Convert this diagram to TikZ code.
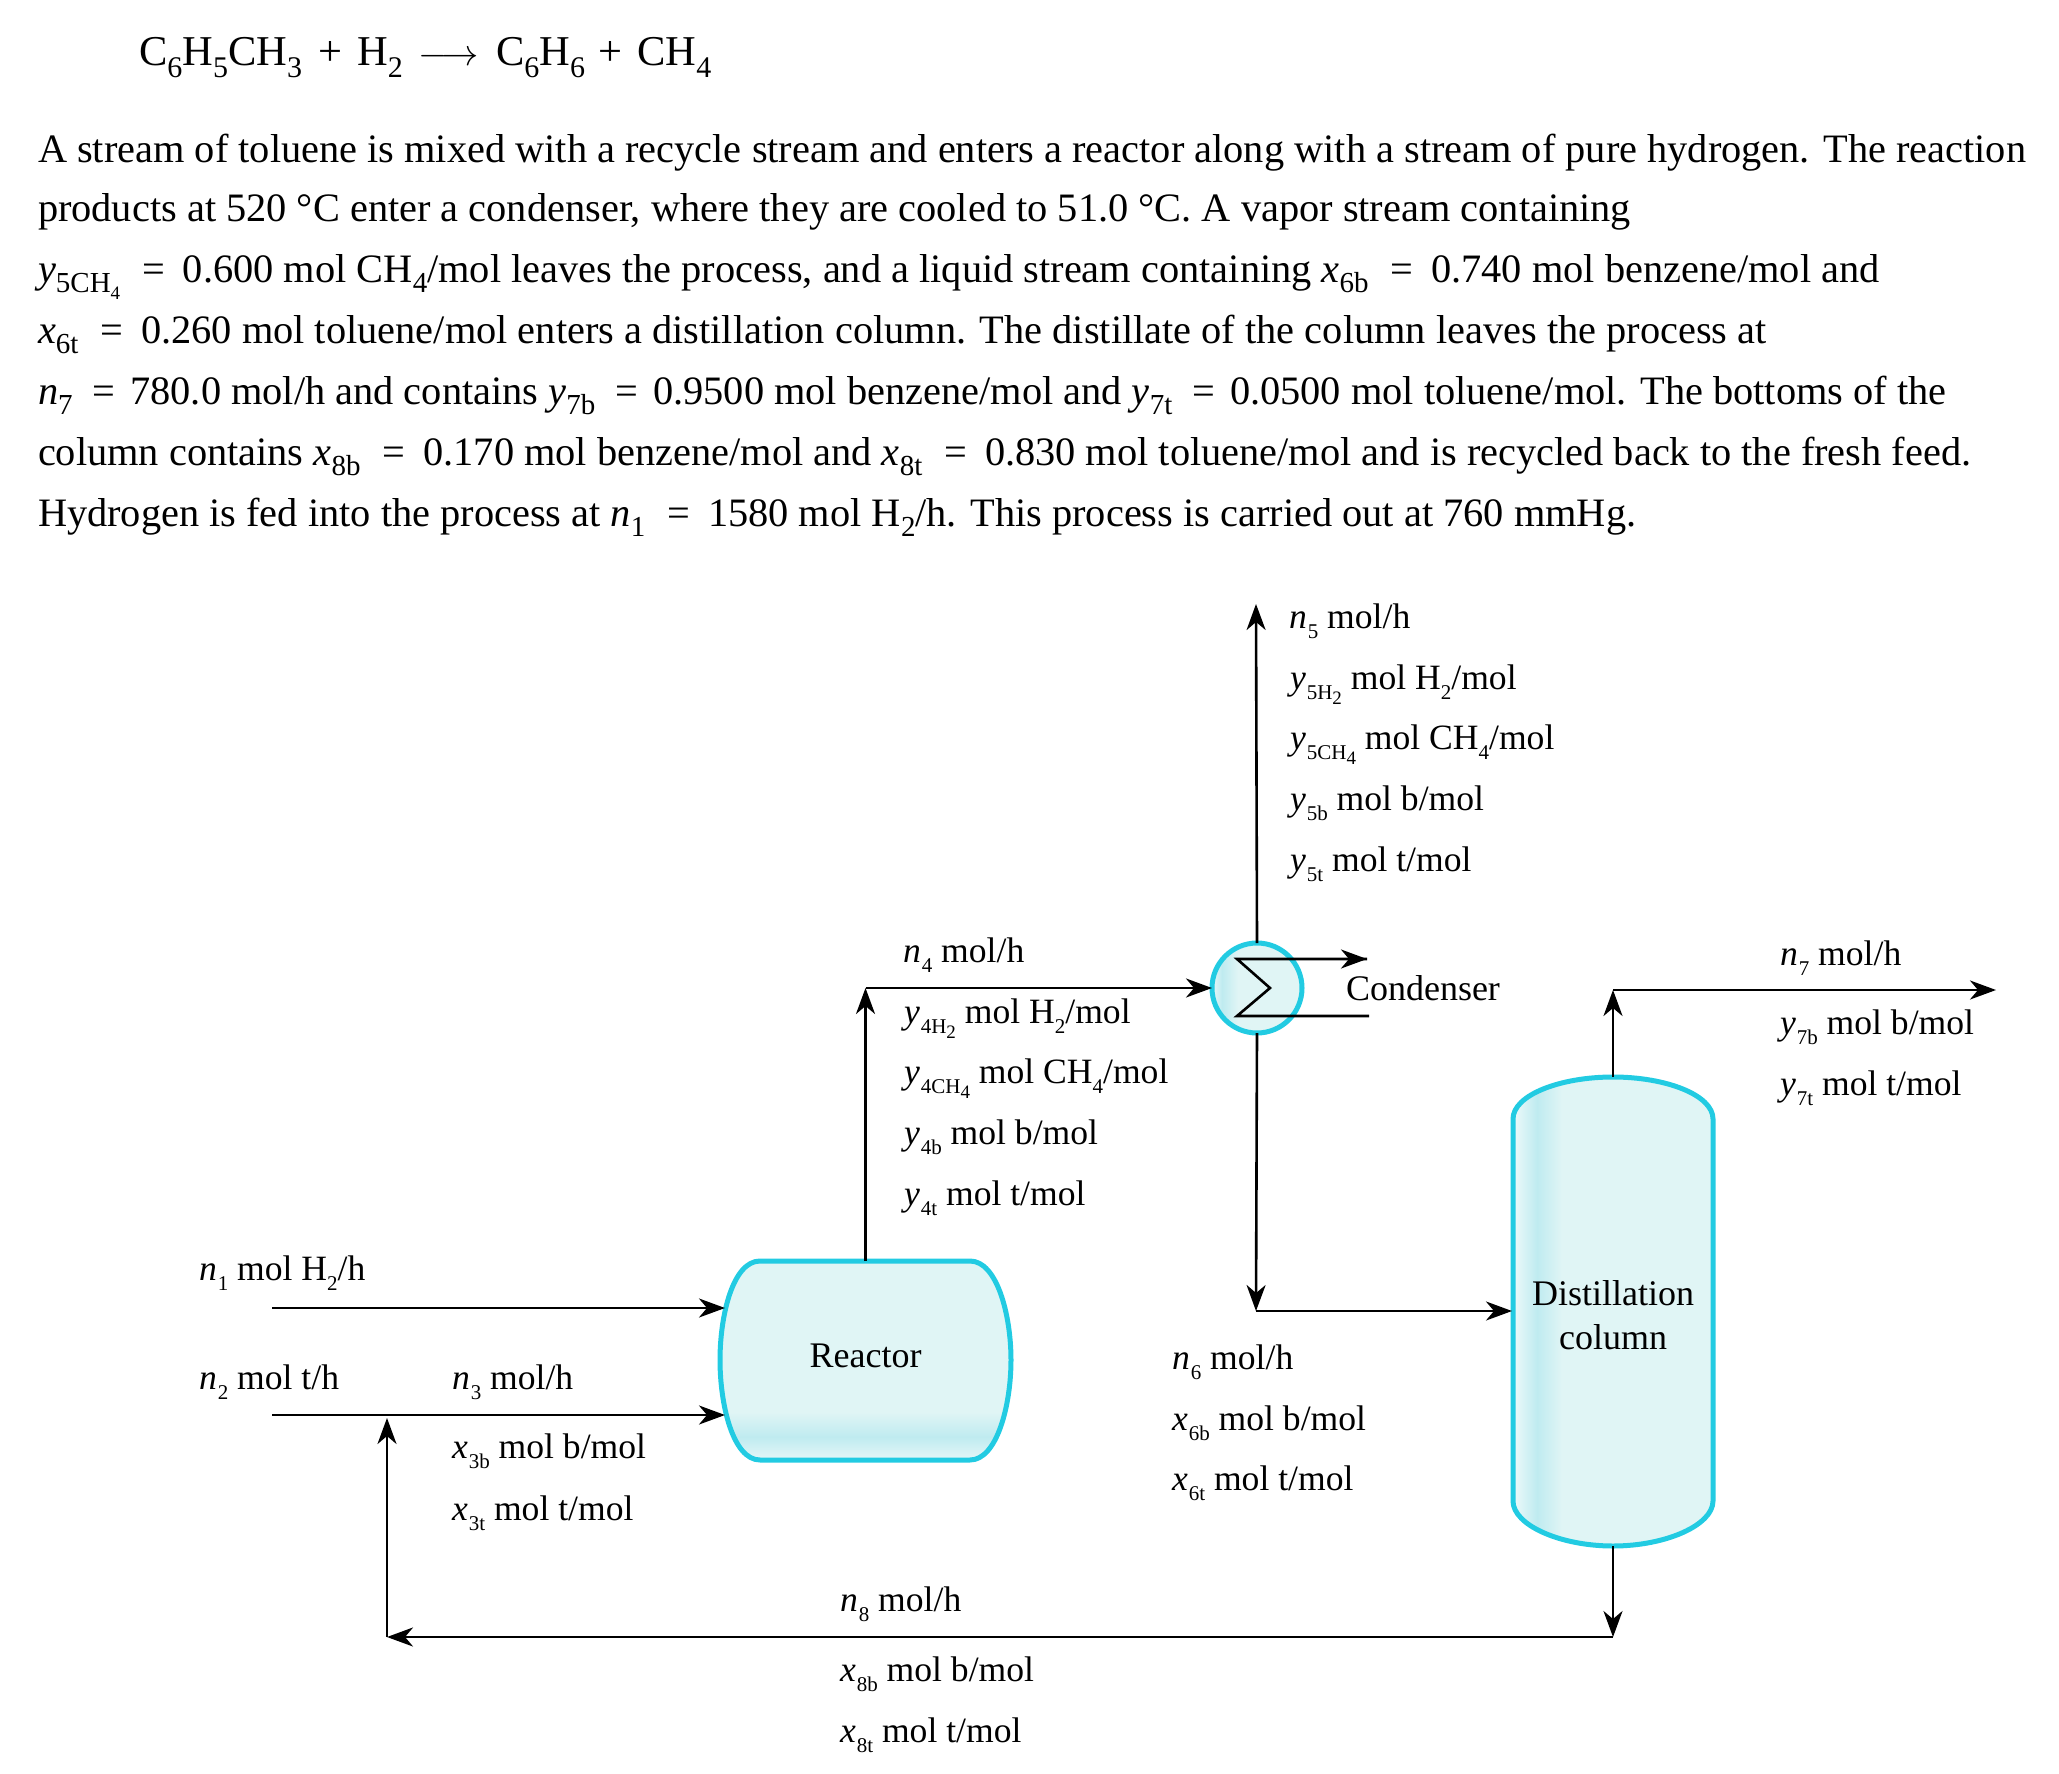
\documentclass[tikz,border=0pt]{standalone}
\usepackage{fontspec}
\usepackage{graphicx}
\setmainfont{Liberation Serif}
\usetikzlibrary{arrows.meta,calc}
\definecolor{eqline}{HTML}{22CBE2}
\definecolor{eqfill}{HTML}{E0F5F5}
\definecolor{eqband}{HTML}{BFEBF0}
\newcommand\dn[1]{\raisebox{-.3em}{\fontsize{21}{21}\selectfont #1}}
\newcommand\dnn[1]{\raisebox{-.25em}{\fontsize{19}{19}\selectfont #1}}
\newcommand\dnb[1]{\raisebox{-.25em}{\fontsize{29}{29}\selectfont #1}}
\newcommand\dnc[1]{\raisebox{-.28em}{\fontsize{30}{30}\selectfont #1}}
\newcommand\eqs{\kern22pt=\kern18pt}
\newcommand\eqt{\kern20pt=\kern15pt}
\newcommand\vn[2]{\textit{#1}\kern1pt\dn{#2}}
\tikzset{
  x=1pt,y=-1pt,
  lab/.style={anchor=base west,inner sep=0pt,outer sep=0pt,font=\fontsize{35.6}{35.6}\selectfont},
  body/.style={anchor=base west,inner sep=0pt,outer sep=0pt,font=\fontsize{40.36}{40.36}\selectfont},
  eq/.style={fill=eqfill,draw=none},
  eqedge/.style={draw=eqline,line width=5pt,line join=round},
  flow/.style={line width=2.6pt,-{Stealth[length=26pt,width=19pt,inset=8pt]}},
  plainline/.style={line width=2.6pt},
  box/.style={inner sep=0pt,outer sep=0pt,align=center,font=\fontsize{36}{36}\selectfont}
}
\begin{document}
\begin{tikzpicture}
\useasboundingbox (0,0) rectangle (2059,1774);
% text block
\node[body,font=\fontsize{42.5}{42.5}\selectfont] (eqn) at (139,66) {C\dnc{6}H\dnc{5}CH\dnc{3}\kern6pt{} +\kern4pt{} H\dnc{2}\kern16pt\scalebox{1.5}{$\longrightarrow$}\kern17pt C\dnc{6}H\dnc{6}\kern3pt{} +\kern4pt{} CH\dnc{4}};
\node[body] (t1) at (38,163) {A stream of toluene is mixed with a recycle stream and enters a reactor along with a stream of pure hydrogen. The reaction};
\node[body] (t2) at (38,221) {products at 520 °C enter a condenser, where they are cooled to 51.0 °C. A vapor stream containing};
\node[body] (t3) at (38,282) {\textit{y}\dnb{5CH\dnn{4}}\eqs 0.600 mol CH\dnb{4}/mol leaves the process, and a liquid stream containing \textit{x}\dnb{6b}\eqs 0.740 mol benzene/mol and};
\node[body] (t4) at (38,343) {\textit{x}\dnb{6t}\eqs 0.260 mol toluene/mol enters a distillation column. The distillate of the column leaves the process at};
\node[body] (t5) at (38,404) {\textit{n}\dnb{7}\eqt 780.0 mol/h and contains \textit{y}\dnb{7b}\eqt 0.9500 mol benzene/mol and \textit{y}\dnb{7t}\eqt 0.0500 mol toluene/mol. The bottoms of the};
\node[body] (t6) at (38,465) {column contains \textit{x}\dnb{8b}\eqs 0.170 mol benzene/mol and \textit{x}\dnb{8t}\eqs 0.830 mol toluene/mol and is recycled back to the fresh feed.};
\node[body] (t7) at (38,526) {Hydrogen is fed into the process at \textit{n}\dnb{1}\eqs 1580 mol H\dnb{2}/h. This process is carried out at 760 mmHg.};
% reactor shape
\path[eq] (760,1261) .. controls (733,1261) and (720,1315) .. (720,1360) .. controls (720,1405) and (733,1460) .. (760,1460) -- (970,1460) .. controls (997,1460) and (1011,1405) .. (1011,1360) .. controls (1011,1315) and (997,1261) .. (970,1261) -- cycle;
\begin{scope}
\clip (760,1261) .. controls (733,1261) and (720,1315) .. (720,1360) .. controls (720,1405) and (733,1460) .. (760,1460) -- (970,1460) .. controls (997,1460) and (1011,1405) .. (1011,1360) .. controls (1011,1315) and (997,1261) .. (970,1261) -- cycle;
\shade[top color=eqfill,bottom color=eqband] (715,1412) rectangle (1015,1437);
\shade[top color=eqband,bottom color=eqfill!70!white] (715,1437) rectangle (1015,1462);
\end{scope}
\draw[eqedge] (760,1261) .. controls (733,1261) and (720,1315) .. (720,1360) .. controls (720,1405) and (733,1460) .. (760,1460) -- (970,1460) .. controls (997,1460) and (1011,1405) .. (1011,1360) .. controls (1011,1315) and (997,1261) .. (970,1261) -- cycle;
\node[box,minimum width=291pt,minimum height=199pt] (reactor) at (865.5,1360.5) {};
\node[box] (reactorlabel) at (865.5,1356) {Reactor};
% column shape
\path[eq] (1513,1119) .. controls (1513,1095) and (1560,1077) .. (1613,1077) .. controls (1666,1077) and (1713,1095) .. (1713,1119) -- (1713,1501) .. controls (1713,1525) and (1666,1546) .. (1613,1546) .. controls (1560,1546) and (1513,1525) .. (1513,1501) -- cycle;
\begin{scope}
\clip (1513,1119) .. controls (1513,1095) and (1560,1077) .. (1613,1077) .. controls (1666,1077) and (1713,1095) .. (1713,1119) -- (1713,1501) .. controls (1713,1525) and (1666,1546) .. (1613,1546) .. controls (1560,1546) and (1513,1525) .. (1513,1501) -- cycle;
\shade[left color=eqfill!50!white,right color=eqband] (1512,1070) rectangle (1537,1550);
\shade[left color=eqband,right color=eqfill] (1537,1070) rectangle (1562,1550);
\end{scope}
\draw[eqedge] (1513,1119) .. controls (1513,1095) and (1560,1077) .. (1613,1077) .. controls (1666,1077) and (1713,1095) .. (1713,1119) -- (1713,1501) .. controls (1713,1525) and (1666,1546) .. (1613,1546) .. controls (1560,1546) and (1513,1525) .. (1513,1501) -- cycle;
\node[box,minimum width=200pt,minimum height=469pt] (column) at (1613,1311.5) {};
\node[box] (columnlabel) at (1613,1315) {Distillation\\[8pt]column};
% condenser
\fill[eqfill] (1257,988) circle (45);
\begin{scope}
\clip (1257,988) circle (45);
\shade[left color=eqfill!50!white,right color=eqband] (1210,940) rectangle (1222,1036);
\shade[left color=eqband,right color=eqfill] (1222,940) rectangle (1238,1036);
\end{scope}
\node[circle,draw=eqline,line width=5pt,minimum size=90pt,inner sep=0pt,outer sep=0pt] (cond) at (1257,988) {};
\coordinate (sa) at (1237,959);
\coordinate (sb) at (1270,988);
\coordinate (sc) at (1237,1016);
\coordinate (cwout) at (1367,959);
\coordinate (cwin) at (1369,1016);
\draw[plainline,line join=miter] (cwin) -- (sc) -- (sb) -- (sa) -- (cwout);
\draw[flow] (1330,959) -- (cwout);
\node[box,anchor=base west] (condlabel) at (1346,1000) {Condenser};
% connectors
\coordinate (h2in) at (272,1308);
\coordinate (h2r) at (725,1308);
\coordinate (tin) at (272,1415);
\coordinate (tr) at (725,1415);
\coordinate (mix) at (387,1418);
\coordinate (rc) at (387,1637);
\coordinate (n4corner) at (865.5,988);
\coordinate (topout) at (1256,604);
\coordinate (n6corner) at (1256,1311);
\coordinate (colfeed) at (1512,1311);
\coordinate (colturn) at (1613,990);
\coordinate (distout) at (1996,990);
\coordinate (colbot) at (1613,1637);
\draw[flow] (h2in) -- (h2r);
\draw[flow] (tin) -- (tr);
\draw[flow] (reactor.north) -- (n4corner);
\draw[flow] (n4corner) -- (cond.west);
\draw[flow] (cond.north) -- (topout);
\draw[flow] (cond.south) -- (n6corner);
\draw[flow] (n6corner) -- (colfeed);
\draw[flow] (column.north) -- (colturn);
\draw[flow] (colturn) -- (distout);
\draw[flow] (column.south) -- (colbot);
\draw[flow] (colbot) -- (rc);
\draw[flow] (rc) -- (mix);
% labels
\node[lab] (ln1) at (199,1280) {\vn{n}{1} mol H\dn{2}/h};
\node[lab] (ln2) at (199,1389) {\vn{n}{2} mol t/h};
\node[lab] (ln3) at (452,1389) {\vn{n}{3} mol/h};
\node[lab] (lx3b) at (452,1458) {\vn{x}{3b} mol b/mol};
\node[lab] (lx3t) at (452,1520) {\vn{x}{3t} mol t/mol};
\node[lab] (ln4) at (903,962) {\vn{n}{4} mol/h};
\node[lab] (ly4h) at (904,1023) {\vn{y}{4H\dnn{2}} mol H\dn{2}/mol};
\node[lab] (ly4c) at (904,1083) {\vn{y}{4CH\dnn{4}} mol CH\dn{4}/mol};
\node[lab] (ly4b) at (904,1144) {\vn{y}{4b} mol b/mol};
\node[lab] (ly4t) at (904,1205) {\vn{y}{4t} mol t/mol};
\node[lab] (ln5) at (1289,628) {\vn{n}{5} mol/h};
\node[lab] (ly5h) at (1290,689) {\vn{y}{5H\dnn{2}} mol H\dn{2}/mol};
\node[lab] (ly5c) at (1290,749) {\vn{y}{5CH\dnn{4}} mol CH\dn{4}/mol};
\node[lab] (ly5b) at (1290,810) {\vn{y}{5b} mol b/mol};
\node[lab] (ly5t) at (1290,871) {\vn{y}{5t} mol t/mol};
\node[lab] (ln6) at (1172,1369) {\vn{n}{6} mol/h};
\node[lab] (lx6b) at (1172,1430) {\vn{x}{6b} mol b/mol};
\node[lab] (lx6t) at (1172,1490) {\vn{x}{6t} mol t/mol};
\node[lab] (ln7) at (1780,965) {\vn{n}{7} mol/h};
\node[lab] (ly7b) at (1780,1034) {\vn{y}{7b} mol b/mol};
\node[lab] (ly7t) at (1780,1095) {\vn{y}{7t} mol t/mol};
\node[lab] (ln8) at (840,1611) {\vn{n}{8} mol/h};
\node[lab] (lx8b) at (840,1681) {\vn{x}{8b} mol b/mol};
\node[lab] (lx8t) at (840,1742) {\vn{x}{8t} mol t/mol};
\end{tikzpicture}
\end{document}
